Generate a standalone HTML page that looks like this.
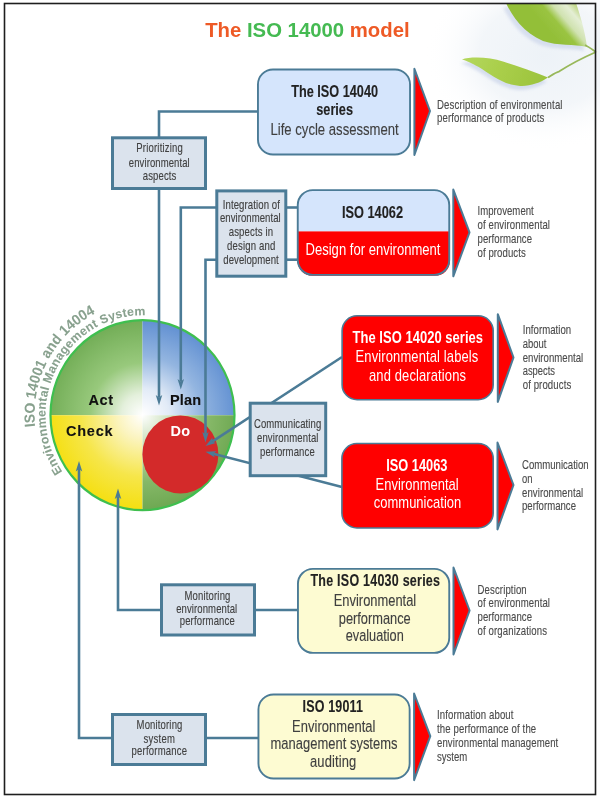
<!DOCTYPE html><html><head><meta charset="utf-8"><style>html,body{margin:0;padding:0;width:600px;height:800px;overflow:hidden;background:#fff}</style></head><body><svg width="600" height="800" viewBox="0 0 600 800" style="position:absolute;left:0;top:0;filter:blur(0.35px);font-family:'Liberation Sans',sans-serif">
<defs>
<radialGradient id="gAct" cx="142.5" cy="415" r="95" gradientUnits="userSpaceOnUse"><stop offset="0" stop-color="#ffffff"/><stop offset="0.22" stop-color="#e4f0dc"/><stop offset="0.55" stop-color="#98c97c"/><stop offset="1" stop-color="#72ad56"/></radialGradient>
<radialGradient id="gPlan" cx="142.5" cy="415" r="95" gradientUnits="userSpaceOnUse"><stop offset="0" stop-color="#ffffff"/><stop offset="0.28" stop-color="#e2ebf7"/><stop offset="0.62" stop-color="#93b5e0"/><stop offset="1" stop-color="#6190d2"/></radialGradient>
<radialGradient id="gCheck" cx="142.5" cy="415" r="95" gradientUnits="userSpaceOnUse"><stop offset="0" stop-color="#ffffff"/><stop offset="0.25" stop-color="#fbf4c0"/><stop offset="0.65" stop-color="#f6e64a"/><stop offset="1" stop-color="#f5df10"/></radialGradient>
<radialGradient id="gDoQ" cx="142.5" cy="415" r="95" gradientUnits="userSpaceOnUse"><stop offset="0" stop-color="#ffffff"/><stop offset="0.3" stop-color="#c9dfb8"/><stop offset="0.7" stop-color="#86b868"/><stop offset="1" stop-color="#6ea852"/></radialGradient>
<linearGradient id="leaf1" x1="0" y1="0" x2="1" y2="0.3"><stop offset="0" stop-color="#8fbd2e"/><stop offset="0.55" stop-color="#9cc63c"/><stop offset="0.8" stop-color="#dceab8"/><stop offset="1" stop-color="#a6c85a"/></linearGradient>
<linearGradient id="leaf2" x1="0" y1="0" x2="1" y2="0.2"><stop offset="0" stop-color="#a9cf4a"/><stop offset="0.6" stop-color="#b2d455"/><stop offset="1" stop-color="#9cc43c"/></linearGradient>
</defs>
<rect x="0" y="0" width="600" height="800" fill="#ffffff"/>
<radialGradient id="bgglow" cx="545" cy="55" r="120" gradientUnits="userSpaceOnUse" gradientTransform="translate(545,55) scale(1,0.8) translate(-545,-55)"><stop offset="0" stop-color="#edf2f7" stop-opacity="1"/><stop offset="0.55" stop-color="#f0f4f8" stop-opacity="0.8"/><stop offset="1" stop-color="#ffffff" stop-opacity="0"/></radialGradient>
<rect x="400" y="0" width="200" height="180" fill="url(#bgglow)"/>
<filter id="blur1" x="-20%" y="-20%" width="140%" height="140%"><feGaussianBlur stdDeviation="1.6"/></filter>
<filter id="blur05"><feGaussianBlur stdDeviation="0.7"/></filter>
<path d="M506,3 C512,16 524,33 543,41 C558,46 574,44 587,47 C585,30 579,12 576,3 Z" fill="#c2cde6" opacity="0.55" filter="url(#blur1)" transform="translate(-3,4)"/>
<path d="M462,59.5 C470,56.5 490,57 503,61.5 C520,67 535,72 548,77.6 C540,83 530,86.5 520,86 C505,85 494,77 482,69 C473,63.5 467,61 462,59.5 Z" fill="#c2cde6" opacity="0.6" filter="url(#blur1)" transform="translate(-1,4)"/>
<linearGradient id="lf1" gradientUnits="userSpaceOnUse" x1="548" y1="30" x2="578" y2="4"><stop offset="0" stop-color="#93bf38"/><stop offset="0.3" stop-color="#9ac442"/><stop offset="0.5" stop-color="#d0e2b0"/><stop offset="0.75" stop-color="#e4eed4"/><stop offset="1" stop-color="#b5d070"/></linearGradient>
<linearGradient id="lf2" gradientUnits="userSpaceOnUse" x1="470" y1="58" x2="540" y2="85"><stop offset="0" stop-color="#b2d65a"/><stop offset="0.5" stop-color="#a8cd48"/><stop offset="1" stop-color="#9cc43e"/></linearGradient>
<path d="M506,3 C512,16 524,33 543,41 C558,46 574,44 587,47 C585,30 579,12 576,3 Z" fill="url(#lf1)" filter="url(#blur05)"/>
<path d="M462,59.5 C470,56.5 490,57 503,61.5 C520,67 535,72 548,77.6 C540,83 530,86.5 520,86 C505,85 494,77 482,69 C473,63.5 467,61 462,59.5 Z" fill="url(#lf2)" filter="url(#blur05)"/>
<path d="M548,77.6 C552,75 556,72 559,71.6 C566,67 580,59 596,52 M585,45 C589,47 593,50 596,52" fill="none" stroke="#98b85a" stroke-width="1.8" filter="url(#blur05)"/>
<rect x="4.5" y="3.5" width="591" height="791" fill="none" stroke="#1e1e1e" stroke-width="1.6"/>
<text x="205.20" y="36.5" font-size="20.3" font-weight="bold" textLength="204.39" lengthAdjust="spacingAndGlyphs"><tspan fill="#ee5a26">The </tspan><tspan fill="#45ba52">ISO 14000 </tspan><tspan fill="#ee5a26">model</tspan></text>
<path d="M142.5,415.2 L50.50,415.20 A92,95 0 0 1 142.50,320.20 Z" fill="url(#gAct)"/>
<path d="M142.5,415.2 L142.50,320.20 A92,95 0 0 1 234.50,415.20 Z" fill="url(#gPlan)"/>
<path d="M142.5,415.2 L142.50,510.20 A92,95 0 0 1 50.50,415.20 Z" fill="url(#gCheck)"/>
<path d="M142.5,415.2 L234.50,415.20 A92,95 0 0 1 142.50,510.20 Z" fill="url(#gDoQ)"/>
<radialGradient id="glow" cx="142.5" cy="415.2" r="40" gradientUnits="userSpaceOnUse"><stop offset="0" stop-color="#fff" stop-opacity="1"/><stop offset="1" stop-color="#fff" stop-opacity="0"/></radialGradient>
<ellipse cx="142.5" cy="415.2" rx="92" ry="95" fill="none" stroke="#3fbf4f" stroke-width="2.2"/>
<ellipse cx="180.4" cy="454.4" rx="38" ry="39" fill="#d32a2a"/>
<defs>
<path id="arcO" d="M35.05,426.62 A108,113 0 0 1 95.33,313.55" fill="none"/>
<path id="arcI" d="M62.66,471.98 A97,100 0 0 1 145.21,315.24" fill="none"/>
</defs>
<text font-size="14.6" font-weight="bold" fill="#88a18e" stroke="#88a18e" stroke-width="0.05"><textPath href="#arcO" startOffset="0" textLength="136.06" lengthAdjust="spacingAndGlyphs">ISO 14001 and 14004</textPath></text>
<text font-size="12.3" font-weight="bold" fill="#88a18e" stroke="#88a18e" stroke-width="0.05"><textPath href="#arcI" startOffset="0" textLength="217.63" lengthAdjust="spacing">Environmental Management System</textPath></text>
<text transform="scale(1.0,1)" x="88.60" y="405.00" font-size="14.5" font-weight="bold" fill="#111" stroke="#111" stroke-width="0.1" textLength="24.40" lengthAdjust="spacing">Act</text>
<text transform="scale(1.0,1)" x="170.00" y="405.20" font-size="14.5" font-weight="bold" fill="#111" stroke="#111" stroke-width="0.1" textLength="31.00" lengthAdjust="spacing">Plan</text>
<text transform="scale(1.0,1)" x="66.00" y="436.00" font-size="14.5" font-weight="bold" fill="#111" stroke="#111" stroke-width="0.1" textLength="46.58" lengthAdjust="spacing">Check</text>
<text transform="scale(1.0,1)" x="170.60" y="436.30" font-size="14.5" font-weight="bold" fill="#fff" textLength="19.40" lengthAdjust="spacing">Do</text>
<path d="M258.00,111.50 L159.00,111.50 L159.00,137.00" fill="none" stroke="#4b7b96" stroke-width="2.6"/>
<path d="M159.00,189.00 L159.00,397.50" fill="none" stroke="#4b7b96" stroke-width="2.6"/>
<polygon points="159.00,405.50 155.75,395.00 159.00,397.62 162.25,395.00" fill="#4b7b96"/>
<path d="M216.00,207.50 L180.80,207.50 L180.80,381.50" fill="none" stroke="#4b7b96" stroke-width="2.6"/>
<polygon points="180.80,389.50 177.55,379.00 180.80,381.62 184.05,379.00" fill="#4b7b96"/>
<path d="M216.00,259.70 L205.50,259.70 L205.50,434.50" fill="none" stroke="#4b7b96" stroke-width="2.6"/>
<polygon points="205.50,442.50 202.25,432.00 205.50,434.62 208.75,432.00" fill="#4b7b96"/>
<path d="M286.00,207.50 L299.00,207.50" fill="none" stroke="#4b7b96" stroke-width="2.6"/>
<path d="M286.00,259.70 L299.00,259.70" fill="none" stroke="#4b7b96" stroke-width="2.6"/>
<path d="M342.00,357.00 L212.20,441.63" fill="none" stroke="#4b7b96" stroke-width="2.6"/>
<polygon points="205.50,446.00 212.52,437.54 212.10,441.70 216.07,442.99" fill="#4b7b96"/>
<path d="M342.00,487.00 L213.25,453.70" fill="none" stroke="#4b7b96" stroke-width="2.6"/>
<polygon points="205.50,451.70 216.48,451.18 213.12,453.67 214.85,457.48" fill="#4b7b96"/>
<path d="M161.00,610.00 L118.00,610.00 L118.00,496.50" fill="none" stroke="#4b7b96" stroke-width="2.6"/>
<polygon points="118.00,488.50 121.25,499.00 118.00,496.38 114.75,499.00" fill="#4b7b96"/>
<path d="M255.00,610.00 L298.00,610.00" fill="none" stroke="#4b7b96" stroke-width="2.6"/>
<path d="M112.00,738.00 L79.00,738.00 L79.00,469.00" fill="none" stroke="#4b7b96" stroke-width="2.6"/>
<polygon points="79.00,461.00 82.25,471.50 79.00,468.88 75.75,471.50" fill="#4b7b96"/>
<path d="M206.00,738.00 L258.00,738.00" fill="none" stroke="#4b7b96" stroke-width="2.6"/>
<rect x="257.95" y="69.45" width="152.10" height="85.10" rx="15" ry="15" fill="#d5e5fc" stroke="#4b7b96" stroke-width="1.9"/>
<polygon points="414.40,68.75 430.00,111.00 414.40,155.00" fill="#ff0000" stroke="#4b7b96" stroke-width="2" stroke-linejoin="round"/>
<text x="291.25" y="97.00" font-size="16.0" font-weight="bold" fill="#222" stroke="#222" stroke-width="0.1" textLength="86.75" lengthAdjust="spacingAndGlyphs">The ISO 14040</text>
<text x="316.25" y="115.00" font-size="16.0" font-weight="bold" fill="#222" stroke="#222" stroke-width="0.1" textLength="36.75" lengthAdjust="spacingAndGlyphs">series</text>
<text x="270.50" y="135.00" font-size="16.6" font-weight="normal" fill="#404040" stroke="#404040" stroke-width="0.12" textLength="128.25" lengthAdjust="spacingAndGlyphs">Life cycle assessment</text>
<text transform="scale(0.8,1)" x="546.25" y="108.80" font-size="12.0" font-weight="normal" fill="#4a4a4a" stroke="#4a4a4a" stroke-width="0.12" textLength="156.87" lengthAdjust="spacing">Description of environmental</text>
<text transform="scale(0.8,1)" x="546.25" y="122.10" font-size="12.0" font-weight="normal" fill="#4a4a4a" stroke="#4a4a4a" stroke-width="0.12" textLength="134.12" lengthAdjust="spacing">performance of products</text>
<rect x="112.50" y="137.80" width="93.00" height="50.70" fill="#dbe3ed" stroke="#4b7b96" stroke-width="3"/>
<text transform="scale(0.8,1)" x="170.38" y="152.20" font-size="11.9" font-weight="normal" fill="#404040" stroke="#404040" stroke-width="0.12" textLength="58.13" lengthAdjust="spacing">Prioritizing</text>
<text transform="scale(0.8,1)" x="161.00" y="166.70" font-size="11.9" font-weight="normal" fill="#404040" stroke="#404040" stroke-width="0.12" textLength="76.13" lengthAdjust="spacing">environmental</text>
<text transform="scale(0.8,1)" x="178.50" y="180.00" font-size="11.9" font-weight="normal" fill="#404040" stroke="#404040" stroke-width="0.12" textLength="41.88" lengthAdjust="spacing">aspects</text>
<rect x="216.80" y="190.90" width="69.00" height="85.30" fill="#dbe3ed" stroke="#4b7b96" stroke-width="3"/>
<text transform="scale(0.8,1)" x="278.37" y="209.00" font-size="12.0" font-weight="normal" fill="#404040" stroke="#404040" stroke-width="0.12" textLength="71.59" lengthAdjust="spacing">Integration of</text>
<text transform="scale(0.8,1)" x="275.00" y="222.30" font-size="12.0" font-weight="normal" fill="#404040" stroke="#404040" stroke-width="0.12" textLength="75.88" lengthAdjust="spacing">environmental</text>
<text transform="scale(0.8,1)" x="285.87" y="236.30" font-size="12.0" font-weight="normal" fill="#404040" stroke="#404040" stroke-width="0.12" textLength="55.38" lengthAdjust="spacing">aspects in</text>
<text transform="scale(0.8,1)" x="283.75" y="250.30" font-size="12.0" font-weight="normal" fill="#404040" stroke="#404040" stroke-width="0.12" textLength="60.38" lengthAdjust="spacing">design and</text>
<text transform="scale(0.8,1)" x="279.12" y="263.70" font-size="12.0" font-weight="normal" fill="#404040" stroke="#404040" stroke-width="0.12" textLength="69.25" lengthAdjust="spacing">development</text>
<clipPath id="c2"><rect x="297.5" y="189.8" width="152.5" height="86" rx="15"/></clipPath>
<g clip-path="url(#c2)"><rect x="296" y="188" width="156" height="43.4" fill="#d5e5fc"/><rect x="296" y="231.4" width="156" height="46" fill="#ff0000"/></g>
<rect x="297.75" y="190.15" width="151.50" height="84.70" rx="15" ry="15" fill="none" stroke="#4b7b96" stroke-width="1.9"/>
<polygon points="453.30,189.60 469.50,232.30 453.30,276.30" fill="#ff0000" stroke="#4b7b96" stroke-width="2" stroke-linejoin="round"/>
<text x="342.00" y="218.00" font-size="16.2" font-weight="bold" fill="#222" stroke="#222" stroke-width="0.1" textLength="61.00" lengthAdjust="spacingAndGlyphs">ISO 14062</text>
<text x="305.50" y="255.00" font-size="16.8" font-weight="normal" fill="#ffffff" textLength="135.01" lengthAdjust="spacingAndGlyphs">Design for environment</text>
<text transform="scale(0.8,1)" x="596.88" y="214.70" font-size="12.0" font-weight="normal" fill="#4a4a4a" stroke="#4a4a4a" stroke-width="0.12" textLength="70.38" lengthAdjust="spacing">Improvement</text>
<text transform="scale(0.8,1)" x="596.88" y="228.80" font-size="12.0" font-weight="normal" fill="#4a4a4a" stroke="#4a4a4a" stroke-width="0.12" textLength="90.63" lengthAdjust="spacing">of environmental</text>
<text transform="scale(0.8,1)" x="596.88" y="242.70" font-size="12.0" font-weight="normal" fill="#4a4a4a" stroke="#4a4a4a" stroke-width="0.12" textLength="68.12" lengthAdjust="spacing">performance</text>
<text transform="scale(0.8,1)" x="596.88" y="256.60" font-size="12.0" font-weight="normal" fill="#4a4a4a" stroke="#4a4a4a" stroke-width="0.12" textLength="60.38" lengthAdjust="spacing">of products</text>
<rect x="342.10" y="315.80" width="151.10" height="83.90" rx="15" ry="15" fill="#ff0000" stroke="#4b7b96" stroke-width="1.6"/>
<polygon points="497.80,314.20 513.50,357.50 497.80,401.90" fill="#ff0000" stroke="#4b7b96" stroke-width="2" stroke-linejoin="round"/>
<text transform="scale(0.8,1)" x="440.75" y="342.60" font-size="16.2" font-weight="bold" fill="#ffffff" textLength="163.01" lengthAdjust="spacing">The ISO 14020 series</text>
<text transform="scale(0.8,1)" x="444.50" y="362.00" font-size="16.2" font-weight="normal" fill="#ffffff" textLength="153.37" lengthAdjust="spacing">Environmental labels</text>
<text transform="scale(0.8,1)" x="461.25" y="381.20" font-size="16.2" font-weight="normal" fill="#ffffff" textLength="121.26" lengthAdjust="spacing">and declarations</text>
<text transform="scale(0.8,1)" x="653.38" y="333.70" font-size="12.0" font-weight="normal" fill="#4a4a4a" stroke="#4a4a4a" stroke-width="0.12" textLength="60.63" lengthAdjust="spacing">Information</text>
<text x="522.70" y="347.60" font-size="12.0" font-weight="normal" fill="#4a4a4a" stroke="#4a4a4a" stroke-width="0.12" textLength="23.60" lengthAdjust="spacingAndGlyphs">about</text>
<text transform="scale(0.8,1)" x="653.38" y="361.60" font-size="12.0" font-weight="normal" fill="#4a4a4a" stroke="#4a4a4a" stroke-width="0.12" textLength="75.63" lengthAdjust="spacing">environmental</text>
<text x="522.70" y="375.40" font-size="12.0" font-weight="normal" fill="#4a4a4a" stroke="#4a4a4a" stroke-width="0.12" textLength="32.30" lengthAdjust="spacingAndGlyphs">aspects</text>
<text transform="scale(0.8,1)" x="653.38" y="389.20" font-size="12.0" font-weight="normal" fill="#4a4a4a" stroke="#4a4a4a" stroke-width="0.12" textLength="60.63" lengthAdjust="spacing">of products</text>
<rect x="250.20" y="403.20" width="75.50" height="72.50" fill="#dbe3ed" stroke="#4b7b96" stroke-width="3"/>
<text transform="scale(0.8,1)" x="317.50" y="428.30" font-size="11.9" font-weight="normal" fill="#404040" stroke="#404040" stroke-width="0.12" textLength="84.00" lengthAdjust="spacing">Communicating</text>
<text transform="scale(0.8,1)" x="321.25" y="442.20" font-size="11.9" font-weight="normal" fill="#404040" stroke="#404040" stroke-width="0.12" textLength="76.88" lengthAdjust="spacing">environmental</text>
<text transform="scale(0.8,1)" x="325.00" y="455.70" font-size="11.9" font-weight="normal" fill="#404040" stroke="#404040" stroke-width="0.12" textLength="68.37" lengthAdjust="spacing">performance</text>
<rect x="341.90" y="443.55" width="151.30" height="84.40" rx="15" ry="15" fill="#ff0000" stroke="#4b7b96" stroke-width="1.6"/>
<polygon points="497.50,442.50 513.50,485.00 497.50,529.40" fill="#ff0000" stroke="#4b7b96" stroke-width="2" stroke-linejoin="round"/>
<text x="386.25" y="470.50" font-size="16.2" font-weight="bold" fill="#ffffff" textLength="61.25" lengthAdjust="spacingAndGlyphs">ISO 14063</text>
<text transform="scale(0.8,1)" x="469.38" y="490.00" font-size="16.2" font-weight="normal" fill="#ffffff" textLength="104.06" lengthAdjust="spacing">Environmental</text>
<text transform="scale(0.8,1)" x="467.19" y="508.00" font-size="16.2" font-weight="normal" fill="#ffffff" textLength="109.38" lengthAdjust="spacing">communication</text>
<text transform="scale(0.8,1)" x="652.50" y="469.30" font-size="12.0" font-weight="normal" fill="#4a4a4a" stroke="#4a4a4a" stroke-width="0.12" textLength="83.38" lengthAdjust="spacing">Communication</text>
<text x="522.00" y="482.80" font-size="12.0" font-weight="normal" fill="#4a4a4a" stroke="#4a4a4a" stroke-width="0.12" textLength="10.50" lengthAdjust="spacingAndGlyphs">on</text>
<text transform="scale(0.8,1)" x="652.50" y="496.60" font-size="12.0" font-weight="normal" fill="#4a4a4a" stroke="#4a4a4a" stroke-width="0.12" textLength="76.50" lengthAdjust="spacing">environmental</text>
<text transform="scale(0.8,1)" x="652.50" y="510.10" font-size="12.0" font-weight="normal" fill="#4a4a4a" stroke="#4a4a4a" stroke-width="0.12" textLength="67.50" lengthAdjust="spacing">performance</text>
<rect x="161.50" y="584.80" width="93.00" height="50.20" fill="#dbe3ed" stroke="#4b7b96" stroke-width="3"/>
<text transform="scale(0.8,1)" x="230.62" y="599.80" font-size="11.9" font-weight="normal" fill="#404040" stroke="#404040" stroke-width="0.12" textLength="57.37" lengthAdjust="spacing">Monitoring</text>
<text transform="scale(0.8,1)" x="220.25" y="613.50" font-size="11.9" font-weight="normal" fill="#404040" stroke="#404040" stroke-width="0.12" textLength="76.25" lengthAdjust="spacing">environmental</text>
<text transform="scale(0.8,1)" x="224.62" y="625.50" font-size="11.9" font-weight="normal" fill="#404040" stroke="#404040" stroke-width="0.12" textLength="68.87" lengthAdjust="spacing">performance</text>
<rect x="297.95" y="568.85" width="151.30" height="84.00" rx="15" ry="15" fill="#fdfbd2" stroke="#4b7b96" stroke-width="1.9"/>
<polygon points="453.50,567.60 469.60,610.50 453.50,654.50" fill="#ff0000" stroke="#4b7b96" stroke-width="2" stroke-linejoin="round"/>
<text transform="scale(0.8,1)" x="388.12" y="586.25" font-size="15.6" font-weight="bold" fill="#222" stroke="#222" stroke-width="0.1" textLength="161.88" lengthAdjust="spacing">The ISO 14030 series</text>
<text x="333.75" y="606.25" font-size="16.2" font-weight="normal" fill="#404040" stroke="#404040" stroke-width="0.12" textLength="82.50" lengthAdjust="spacingAndGlyphs">Environmental</text>
<text x="338.75" y="623.75" font-size="16.2" font-weight="normal" fill="#404040" stroke="#404040" stroke-width="0.12" textLength="72.00" lengthAdjust="spacingAndGlyphs">performance</text>
<text x="345.75" y="641.25" font-size="16.2" font-weight="normal" fill="#404040" stroke="#404040" stroke-width="0.12" textLength="58.00" lengthAdjust="spacingAndGlyphs">evaluation</text>
<text transform="scale(0.8,1)" x="596.88" y="594.20" font-size="12.0" font-weight="normal" fill="#4a4a4a" stroke="#4a4a4a" stroke-width="0.12" textLength="61.50" lengthAdjust="spacing">Description</text>
<text transform="scale(0.8,1)" x="596.88" y="607.50" font-size="12.0" font-weight="normal" fill="#4a4a4a" stroke="#4a4a4a" stroke-width="0.12" textLength="90.63" lengthAdjust="spacing">of environmental</text>
<text transform="scale(0.8,1)" x="596.88" y="621.30" font-size="12.0" font-weight="normal" fill="#4a4a4a" stroke="#4a4a4a" stroke-width="0.12" textLength="68.12" lengthAdjust="spacing">performance</text>
<text transform="scale(0.8,1)" x="596.88" y="635.40" font-size="12.0" font-weight="normal" fill="#4a4a4a" stroke="#4a4a4a" stroke-width="0.12" textLength="86.88" lengthAdjust="spacing">of organizations</text>
<rect x="112.50" y="714.50" width="93.00" height="50.00" fill="#dbe3ed" stroke="#4b7b96" stroke-width="3"/>
<text transform="scale(0.8,1)" x="170.75" y="729.40" font-size="11.9" font-weight="normal" fill="#404040" stroke="#404040" stroke-width="0.12" textLength="57.25" lengthAdjust="spacing">Monitoring</text>
<text transform="scale(0.8,1)" x="179.50" y="743.00" font-size="11.9" font-weight="normal" fill="#404040" stroke="#404040" stroke-width="0.12" textLength="39.25" lengthAdjust="spacing">system</text>
<text transform="scale(0.8,1)" x="164.50" y="755.00" font-size="11.9" font-weight="normal" fill="#404040" stroke="#404040" stroke-width="0.12" textLength="69.25" lengthAdjust="spacing">performance</text>
<rect x="258.45" y="694.45" width="151.20" height="84.10" rx="15" ry="15" fill="#fdfbd2" stroke="#4b7b96" stroke-width="1.9"/>
<polygon points="414.10,693.50 430.30,736.20 414.10,780.10" fill="#ff0000" stroke="#4b7b96" stroke-width="2" stroke-linejoin="round"/>
<text transform="scale(0.8,1)" x="378.12" y="712.50" font-size="15.6" font-weight="bold" fill="#222" stroke="#222" stroke-width="0.1" textLength="75.63" lengthAdjust="spacing">ISO 19011</text>
<text transform="scale(0.8,1)" x="365.00" y="732.00" font-size="16.2" font-weight="normal" fill="#404040" stroke="#404040" stroke-width="0.12" textLength="104.38" lengthAdjust="spacing">Environmental</text>
<text transform="scale(0.8,1)" x="338.12" y="749.50" font-size="16.2" font-weight="normal" fill="#404040" stroke="#404040" stroke-width="0.12" textLength="158.75" lengthAdjust="spacing">management systems</text>
<text transform="scale(0.8,1)" x="387.50" y="767.50" font-size="16.2" font-weight="normal" fill="#404040" stroke="#404040" stroke-width="0.12" textLength="57.81" lengthAdjust="spacing">auditing</text>
<text transform="scale(0.8,1)" x="546.25" y="719.30" font-size="12.0" font-weight="normal" fill="#4a4a4a" stroke="#4a4a4a" stroke-width="0.12" textLength="95.62" lengthAdjust="spacing">Information about</text>
<text transform="scale(0.8,1)" x="546.25" y="733.15" font-size="12.0" font-weight="normal" fill="#4a4a4a" stroke="#4a4a4a" stroke-width="0.12" textLength="123.99" lengthAdjust="spacing">the performance of the</text>
<text transform="scale(0.8,1)" x="546.25" y="747.00" font-size="12.0" font-weight="normal" fill="#4a4a4a" stroke="#4a4a4a" stroke-width="0.12" textLength="151.63" lengthAdjust="spacing">environmental management</text>
<text x="437.00" y="760.50" font-size="12.0" font-weight="normal" fill="#4a4a4a" stroke="#4a4a4a" stroke-width="0.12" textLength="30.30" lengthAdjust="spacingAndGlyphs">system</text>
</svg></body></html>
